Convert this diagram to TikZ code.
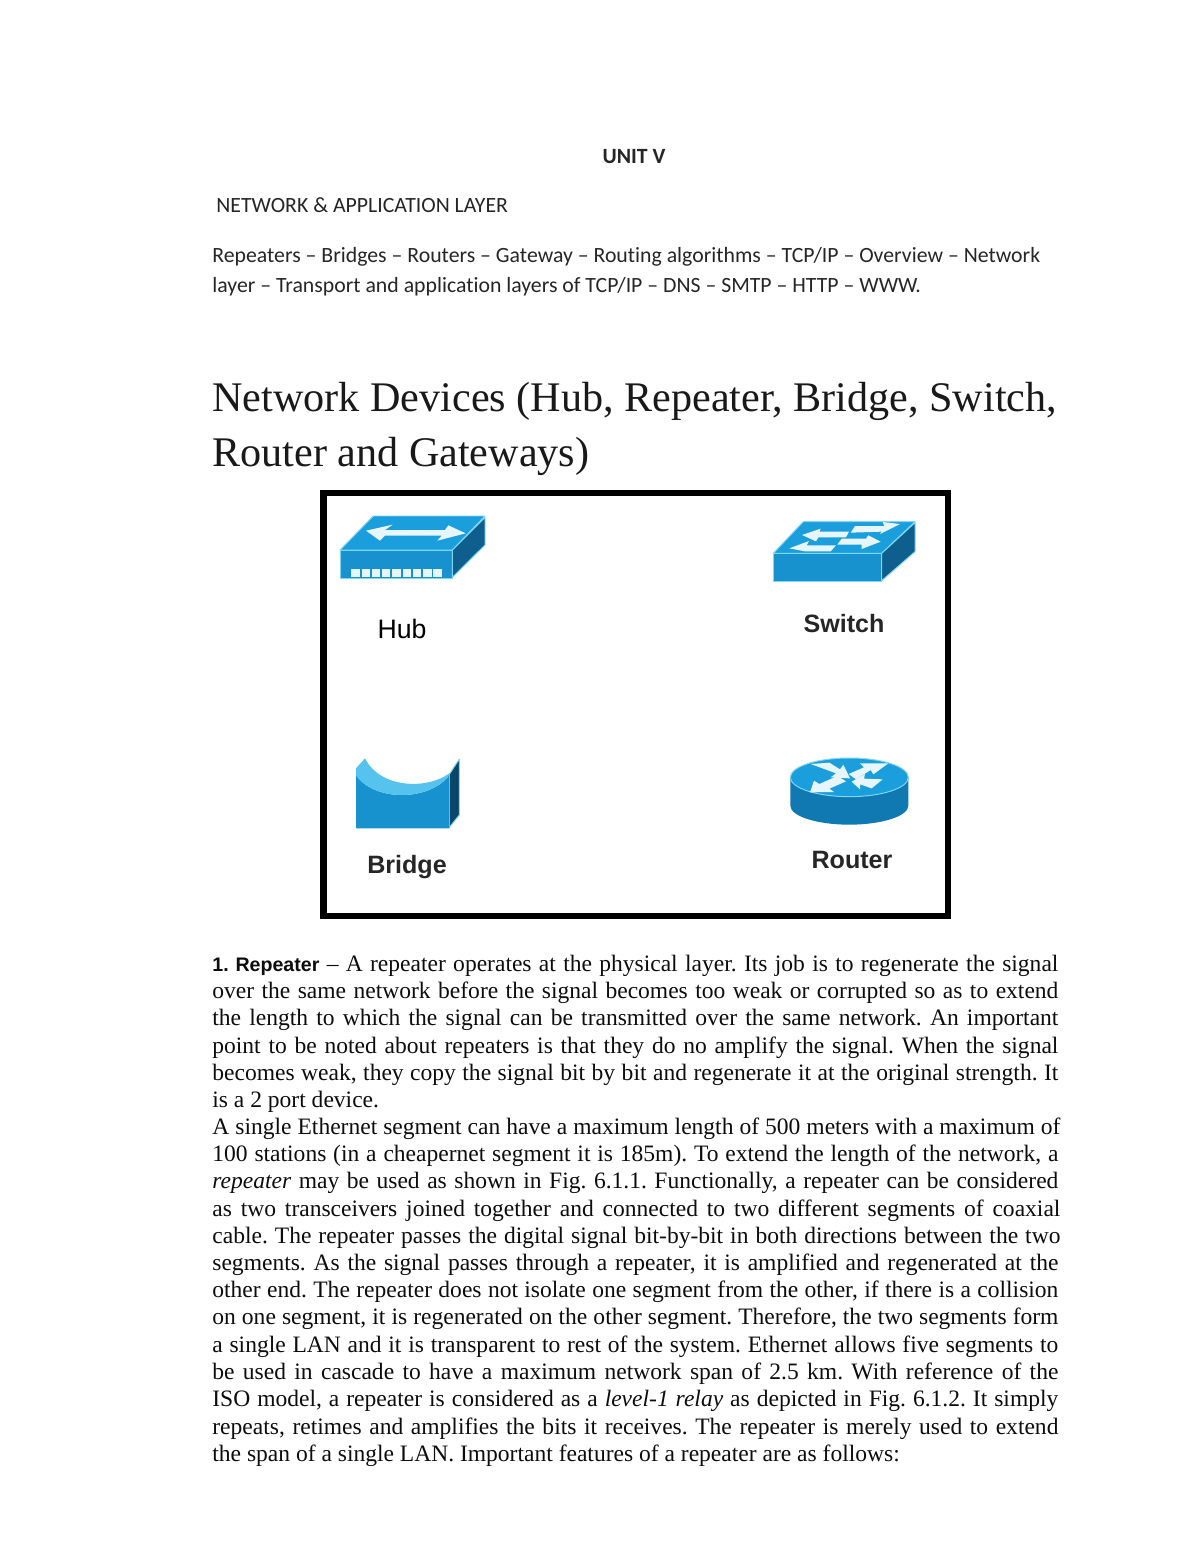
\documentclass[tikz,border=0pt]{standalone}
\usepackage{fontspec}
\setmainfont{Liberation Serif}
\newfontfamily\carl[Ligatures=CommonOff]{Carlito}
\newfontfamily\arl{Liberation Sans}
\AtBeginDocument{\frenchspacing}
\definecolor{topblue}{HTML}{1A9FDC}
\definecolor{frontblue}{HTML}{1792CF}
\definecolor{sideblue}{HTML}{0F5F8E}
\definecolor{darkblue}{HTML}{0A4668}
\definecolor{lightblue}{HTML}{55C3EE}
\definecolor{edgeblue}{HTML}{7FD6F6}
\definecolor{rimblue}{HTML}{1079B2}
\definecolor{arrowwhite}{HTML}{E6F6FC}
\newcount\lnum
\lnum=0
\newcommand{\jl}[3][1058]{\global\advance\lnum by 1
  \pgfmathsetlengthmacro{\lw}{(#1-212)*0.51pt}
  \node[bodytext] (l\the\lnum) at (212,#2) {\makebox[\lw][s]{#3}};}
\newcommand{\nl}[2]{\global\advance\lnum by 1
  \node[bodytext] (l\the\lnum) at (212,#1) {#2};}
\tikzset{
  bodytext/.style={anchor=base west,inner sep=0pt,font=\fontsize{12}{14}\selectfont,text=black!95},
  headtext/.style={anchor=base west,inner sep=0pt,font=\fontsize{11.1}{13}\carl,text=black!85},
  titletext/.style={anchor=base west,inner sep=0pt,font=\fontsize{21.5}{26}\selectfont,text=black!90},
  iconlabel/.style={anchor=base,inner sep=0pt,font=\fontsize{12.8}{15}\arl\bfseries,text=black!85},
  face/.style={draw=edgeblue,line width=0.5pt,line join=round},
  whitearrow/.style={fill=arrowwhite,draw=none}
}
\begin{document}
\begin{tikzpicture}[x=0.51pt,y=-0.51pt]
\useasboundingbox (0,0) rectangle (1200,1553);
\fill[white] (0,0) rectangle (1200,1553);
% top text
\node[headtext,anchor=base,font=\fontsize{11.1}{13}\carl\bfseries] (unit) at (634,164) {UNIT V};
\node[headtext] (sect) at (216,213) {NETWORK \& APPLICATION LAYER};
\node[headtext] (syl1) at (212,262) {Repeaters – Bridges – Routers – Gateway – Routing algorithms – TCP/IP – Overview – Network};
\node[headtext] (syl2) at (212,292) {layer – Transport and application layers of TCP/IP – DNS – SMTP – HTTP – WWW.};
\node[titletext] (t1) at (212,411) {Network Devices (Hub, Repeater, Bridge, Switch,};
\node[titletext] (t2) at (212,466) {Router and Gateways)};
% frame
\draw[black,line width=3.3pt] (323.5,493) rectangle (948,916);
% Hub
\begin{scope}[shift={(320,490)},scale=1/3]
  \fill[face,fill=topblue] (60,180) -- (160,78) -- (495,78) -- (397,180) -- cycle;
  \fill[face,fill=frontblue] (60,180) rectangle (397,265);
  \fill[face,fill=sideblue] (397,180) -- (495,82) -- (495,165) -- (397,262) -- cycle;
  \foreach \i in {0,...,8}
    \fill[arrowwhite] ({94+\i*30.8},236) rectangle ++(25,24);
  \fill[whitearrow] (138,122) -- (218,104) -- (195,120) -- (375,120) -- (385,106) -- (437,130) -- (352,152) -- (365,137) -- (195,137) -- (180,152) -- cycle;
\end{scope}
\node[iconlabel,font=\fontsize{13.6}{15}\arl,text=black] (hub) at (402,638) {Hub};
% Switch
\begin{scope}[shift={(740,500)},scale=1/3]
  \fill[face,fill=topblue] (100,160) -- (190,65) -- (525,65) -- (425,160) -- cycle;
  \fill[face,fill=frontblue] (100,160) rectangle (425,245);
  \fill[face,fill=sideblue] (425,160) -- (525,68) -- (525,155) -- (425,242) -- cycle;
  \fill[whitearrow] (332,98) -- (345,78) -- (433,78) -- (428,66) -- (480,72) -- (420,102) -- (425,95) -- cycle;
  \fill[whitearrow] (186,105) -- (242,86) -- (238,95) -- (327,95) -- (318,112) -- (235,112) -- (228,124) -- cycle;
  \fill[whitearrow] (148,145) -- (207,123) -- (200,136) -- (288,136) -- (272,154) -- (195,154) -- cycle;
  \fill[whitearrow] (292,134) -- (305,116) -- (378,116) -- (385,106) -- (422,125) -- (365,147) -- (365,134) -- cycle;
\end{scope}
\node[iconlabel] (switch) at (844,632) {Switch};
% Bridge
\begin{scope}[shift={(330,740)},scale=1/3]
  \fill[face,fill=darkblue] (358,103) -- (388,57) -- (388,225) -- (358,262) -- cycle;
  \fill[fill=frontblue] (78,105) .. controls (130,185) and (300,185) .. (358,105) -- (358,265) -- (78,265) -- cycle;
  \fill[fill=lightblue] (78,85) -- (105,55) .. controls (150,145) and (290,150) .. (358,100) -- (358,105) .. controls (300,185) and (130,185) .. (78,105) -- cycle;
\end{scope}
\node[iconlabel] (bridge) at (407,873) {Bridge};
% Router
\begin{scope}[shift={(760,740)},scale=1/3]
  \fill[fill=rimblue] (91,112) -- (91,197) arc[start angle=180,end angle=0,x radius=177,y radius=57] -- (445,112) -- cycle;
  \fill[face,fill=topblue] (268,112) ellipse [x radius=177,y radius=58];
  \fill[whitearrow] (152,72) -- (208,68) -- (240,88) -- (250,74) -- (270,115) -- (212,112) -- (228,100) -- cycle;
  \fill[whitearrow] (385,70) -- (340,103) -- (332,90) -- (288,118) -- (266,102) -- (312,82) -- (300,70) -- cycle;
  \fill[whitearrow] (275,125) -- (315,102) -- (312,116) -- (368,118) -- (335,145) -- (300,133) -- (300,148) -- cycle;
  \fill[whitearrow] (150,157) -- (162,122) -- (178,132) -- (232,108) -- (258,124) -- (208,146) -- (222,156) -- cycle;
\end{scope}
\node[iconlabel] (router) at (852,868) {Router};
% body
\jl{971}{{\arl\bfseries\fontsize{10}{13}\selectfont 1. Repeater} – A repeater operates at the physical layer. Its job is to regenerate the signal}
\jl{998}{over the same network before the signal becomes too weak or corrupted so as to extend}
\jl{1025}{the length to which the signal can be transmitted over the same network. An important}
\jl{1053}{point to be noted about repeaters is that they do no amplify the signal. When the signal}
\jl{1080}{becomes weak, they copy the signal bit by bit and regenerate it at the original strength. It}
\nl{1107}{is a 2 port device.}
\jl[1060]{1134}{A single Ethernet segment can have a maximum length of 500 meters with a maximum of}
\jl{1161}{100 stations (in a cheapernet segment it is 185m). To extend the length of the network, a}
\jl{1188}{\textit{repeater} may be used as shown in Fig. 6.1.1. Functionally, a repeater can be considered}
\jl[1060]{1216}{as two transceivers joined together and connected to two different segments of coaxial}
\jl[1060]{1243}{cable. The repeater passes the digital signal bit-by-bit in both directions between the two}
\jl{1270}{segments. As the signal passes through a repeater, it is amplified and regenerated at the}
\jl{1297}{other end. The repeater does not isolate one segment from the other, if there is a collision}
\jl{1324}{on one segment, it is regenerated on the other segment. Therefore, the two segments form}
\jl{1352}{a single LAN and it is transparent to rest of the system. Ethernet allows five segments to}
\jl{1379}{be used in cascade to have a maximum network span of 2.5 km. With reference of the}
\jl{1406}{ISO model, a repeater is considered as a \textit{level-1 relay} as depicted in Fig. 6.1.2. It simply}
\jl{1434}{repeats, retimes and amplifies the bits it receives. The repeater is merely used to extend}
\nl{1461}{the span of a single LAN. Important features of a repeater are as follows:}
\end{tikzpicture}
\end{document}
